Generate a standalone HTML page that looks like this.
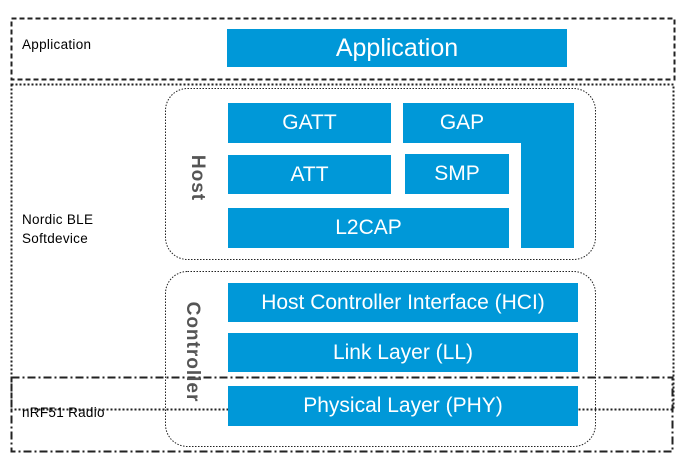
<!DOCTYPE html>
<html><head><style>
body{margin:0;width:683px;height:461px;background:#fff;position:relative;overflow:hidden;font-family:"Liberation Sans",sans-serif}
.b{position:absolute;background:#0098d8;color:#fff;display:flex;align-items:center;justify-content:center;font-size:21px}
.l{position:absolute;font-size:13.5px;color:#000;letter-spacing:0.3px}
.v{position:absolute;font-weight:bold;color:#555;font-size:19px;transform:rotate(90deg);transform-origin:center;white-space:nowrap;letter-spacing:1px}
</style></head><body>
<svg width="683" height="461" style="position:absolute;left:0;top:0">
<rect x="11.5" y="18.5" width="663" height="61" fill="none" stroke="#222" stroke-width="2" stroke-dasharray="5,3"/>
<rect x="11.5" y="84.5" width="662" height="325" fill="none" stroke="#222" stroke-width="2" stroke-dasharray="2,2"/>
<rect x="11.5" y="377.5" width="661" height="74" fill="none" stroke="#222" stroke-width="2" stroke-dasharray="8,3,2,3"/>
<rect x="165.5" y="88.5" width="430" height="171" rx="22" fill="none" stroke="#222" stroke-width="1" stroke-dasharray="1.5,1.5"/>
<rect x="165.5" y="271.5" width="430" height="175" rx="22" fill="none" stroke="#222" stroke-width="1" stroke-dasharray="1.5,1.5"/>
<path d="M403 103H574V248H521V143H403Z" fill="#0098d8"/>
</svg>
<div class="l" style="left:22px;top:37px">Application</div>
<div class="l" style="left:22px;top:210px;line-height:19px">Nordic BLE<br>Softdevice</div>
<div class="l" style="left:22px;top:405px">nRF51 Radio</div>
<div class="b" style="left:227px;top:29px;width:340px;height:38px;font-size:25px">Application</div>
<div class="b" style="left:228px;top:103px;width:163px;height:40px">GATT</div>
<div style="position:absolute;left:403px;top:103px;width:118px;height:40px;color:#fff;font-size:21px;display:flex;align-items:center;justify-content:center">GAP</div>
<div class="b" style="left:228px;top:155px;width:163px;height:39px">ATT</div>
<div class="b" style="left:405px;top:154px;width:104px;height:40px">SMP</div>
<div class="b" style="left:228px;top:208px;width:281px;height:40px">L2CAP</div>
<div class="b" style="left:228px;top:283px;width:350px;height:39px">Host Controller Interface (HCI)</div>
<div class="b" style="left:228px;top:333px;width:350px;height:39px">Link Layer (LL)</div>
<div class="b" style="left:228px;top:386px;width:350px;height:40px">Physical Layer (PHY)</div>
<div class="v" style="left:167px;top:167px;width:60px;text-align:center">Host</div>
<div class="v" style="left:137px;top:341px;width:110px;text-align:center">Controller</div>
</body></html>
